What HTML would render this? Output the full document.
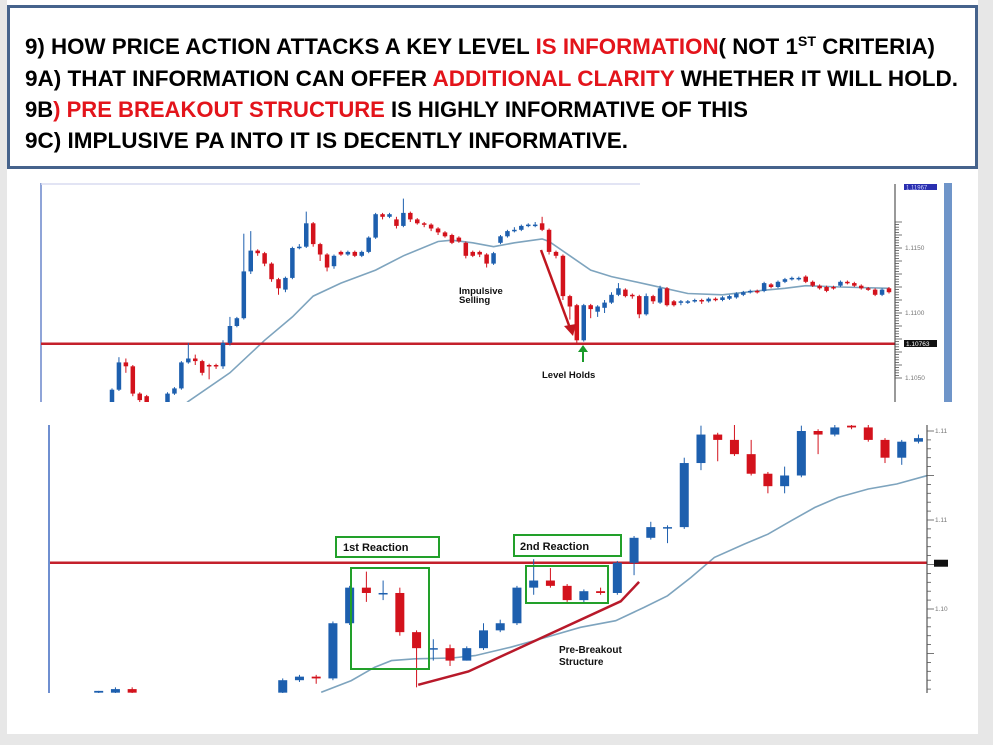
<!DOCTYPE html>
<html><head><meta charset="utf-8"><style>
html,body{margin:0;padding:0;background:#e7e7e7;}
svg{display:block;}
text{font-family:"Liberation Sans",sans-serif;}
</style></head><body>
<svg id="s" width="993" height="745" viewBox="0 0 993 745" xmlns="http://www.w3.org/2000/svg">
<rect x="0" y="0" width="993" height="745" fill="#e7e7e7"/>
<rect x="7" y="0" width="971" height="734" fill="#ffffff"/>
<rect x="8.5" y="6.5" width="968" height="161" fill="#fff" stroke="#46638c" stroke-width="3"/>
<g font-weight="bold" font-size="22" fill="#000">
<text x="25" y="54" textLength="910" lengthAdjust="spacingAndGlyphs">9) HOW PRICE ACTION ATTACKS A KEY LEVEL <tspan fill="#e3141b">IS INFORMATION</tspan>( NOT 1<tspan font-size="14" dy="-8">ST</tspan><tspan dy="8"> CRITERIA)</tspan></text>
<text x="25" y="86" textLength="933" lengthAdjust="spacingAndGlyphs">9A) THAT INFORMATION CAN OFFER <tspan fill="#e3141b">ADDITIONAL CLARITY</tspan> WHETHER IT WILL HOLD.</text>
<text x="25" y="117" textLength="723" lengthAdjust="spacingAndGlyphs">9B<tspan fill="#e3141b">) PRE BREAKOUT STRUCTURE</tspan> IS HIGHLY INFORMATIVE OF THIS</text>
<text x="25" y="148" textLength="603" lengthAdjust="spacingAndGlyphs">9C) IMPLUSIVE PA INTO IT IS DECENTLY INFORMATIVE.</text>
</g>
<defs>
<clipPath id="c1"><rect x="41" y="184" width="854" height="218"/></clipPath>
<clipPath id="c2"><rect x="50" y="425" width="877" height="268"/></clipPath>
</defs>
<g id="top"></g>
<g id="bot"></g>
</svg>
<script>
// ---------- TOP CHART DATA (pips above 1.1000) ----------
const topOpen=[31,41,62,59,38,36,30,27,31,38,42,62,65,63,60,60,59,77,90,96,132,148,146,138,126,118,127,150,151,169,153,145,136,147,145,147,144,147,158,176,174,172,167,177,172,169,168,165,162,160,158,154,147,147,145,138,154,159,163,164,167,167,169,164,147,144,113,106,79,106,101,104,108,114,118,114,113,99,113,108,119,109,108,108,109,110,109,111,110,111,112,114,116,117,117,122,120,124,126,126,128,124,121,120,120,121,124,123,121,119,118,114,119];
const topClose=[41,62,59,38,33,31,27,29,38,42,62,65,63,54,59,59,77,90,96,132,148,146,138,126,119,127,150,151,169,153,145,135,144,145,147,144,147,158,176,174,176,167,177,172,169,168,165,162,159,154,155,144,144,145,138,146,159,163,164,167,168,168,164,147,144,113,105,79,106,103,105,108,114,119,113,113,99,113,109,119,106,106,109,109,110,109,111,110,112,113,115,116,117,116,123,120,124,126,127,127,124,121,119,117,119,124,123,121,119,118,114,118,116];
const topHigh=[42,66,65,60,39,37,31,30,39,43,63,77,68,64,61,61,79,97,97,161,163,149,147,139,127,128,151,153,178,170,154,146,145,148,148,148,148,159,177,177,177,174,188,178,173,170,169,166,163,161,159,155,148,148,146,147,160,164,166,168,169,170,174,165,148,145,114,107,107,107,106,110,116,123,119,115,114,115,114,121,120,110,110,110,111,111,112,112,113,114,116,117,118,118,124,123,125,127,128,128,129,125,122,121,121,125,125,124,122,120,119,119,120];
const topLow=[30,40,54,36,30,28,25,25,30,37,41,61,60,52,49,57,57,75,89,95,130,144,136,124,114,116,126,149,150,151,140,132,134,144,144,143,143,146,157,172,173,165,166,170,168,166,163,160,158,153,154,142,143,143,135,137,153,158,162,163,166,166,163,145,142,110,95,77,78,96,97,100,107,113,112,111,96,98,107,107,105,105,106,107,108,107,108,109,109,110,111,113,115,115,116,119,119,123,125,125,123,120,118,116,118,120,122,120,118,117,113,113,115];
const topMaIdx=[9,11,17,22,26,29,33,38,42,47,49,52,55,58,62,63,66,69,72,78,83,88,93,97,100,105,112];
const topMaVal=[23,32,54,79,97,113,123,133,144,155,156,154,151,154,157,155,144,133,128,121,115,114,117,119,121,120,119];
const topTickVals=[115,110,105];
const topTickLabels=["1.1150","1.1100","1.1050"];
const topLevel=76.3;
const topLevelLabel="1.10763";
const topTopLabel="1.11967";

// ---------- BOTTOM CHART DATA ----------
const botOpen=[3,3,5,-3,-3,-3,-3,-3,-3,-1,-3,3,10,12,11,42,62,59,59,37,28,28,21,28,38,42,62,66,63,55,60,59,76,90,96,96,132,148,145,137,126,119,125,150,148,153,152,145,135,144];
const botClose=[4,5,3,-1,-1,-1,-1,-1,-1,1,-1,10,12,11,42,62,59,59,37,28,28,21,28,38,42,62,66,63,55,60,59,76,90,96,96,132,148,145,137,126,119,125,150,148,152,152,145,135,144,146];
const botHigh=[4,6,6,0,0,0,0,0,0,2,0,11,13,13,43,63,71,66,62,38,33,30,29,42,44,63,78,73,64,61,62,77,91,99,97,135,153,149,154,145,127,130,153,151,157,157,157,146,145,148];
const botLow=[2,2,2,-4,-4,-4,-4,-4,-4,-3,-4,2,9,8,10,41,54,55,35,6,21,18,21,27,37,41,58,62,54,53,58,58,69,89,87,95,128,133,136,125,115,115,124,137,147,151,144,132,131,143];
const botMaIdx=[13.3,15.1,16.5,17.5,18.9,21.1,22.5,24.6,26.7,28.8,30.9,32.6,34,35.4,36.8,38.6,40,41.4,42.8,44.2,46,47.7,49.5];
const botMaVal=[3.2,9.8,17.3,21,22,22.5,23.8,28.5,34,39.7,43.4,50.9,57.4,67.7,79,86.5,92,99.6,107,112.7,117.4,120.2,124.9];
const trendIdx=[19.1,22.1,31.2,32.3];
const trendVal=[7.4,14.9,54.3,65.2];
const botTickVals=[115,110,105];
const botTickLabels=["1.11","1.11","1.10"];
const botLevel=76;

const NS="http://www.w3.org/2000/svg";
function mk(parent,tag,attrs){const e=document.createElementNS(NS,tag);for(const k in attrs)e.setAttribute(k,attrs[k]);parent.appendChild(e);return e;}
const BLUE="#1d5fae",RED="#d3121c";

const tY=p=>313-(p-100)*1.3;
const tX=i=>112+i*(777/(topOpen.length-1));
const bY=p=>520-(p-100)*1.78;
const bX=i=>98.7+i*16.73;

function drawChart(g,clip,X,Y,O,C,H,L,bw,maI,maV,level,x0,x1,prefix){
  const cg=mk(g,'g',{'clip-path':'url(#'+clip+')'});
  
  
  let d='';maI.forEach((v,k)=>{d+=(k?'L':'M')+X(v).toFixed(1)+' '+Y(maV[k]).toFixed(1);});
  const ma=mk(cg,'path',{d:d,fill:'none',stroke:'#7ea4be','stroke-width':1.6});
  
  
  const lv=mk(cg,'line',{x1:x0,x2:x1,y1:Y(level),y2:Y(level),stroke:'#c4202b','stroke-width':2.5});
  
  
  for(let i=0;i<O.length;i++){
    const up=C[i]>=O[i];const col=up?BLUE:RED;const x=X(i);
    const w=mk(cg,'line',{x1:x,x2:x,y1:Y(H[i]),y2:Y(L[i]),stroke:col,'stroke-width':1});
    
    
    const top=Y(Math.max(O[i],C[i])),hgt=Math.max(1.5,Math.abs(Y(O[i])-Y(C[i])));
    const b=mk(cg,'rect',{x:x-bw/2,y:top,width:bw,height:hgt,fill:col});
    
    
  }
}

// ---- TOP ----
const tg=document.getElementById('top');
mk(tg,'rect',{x:40,y:183,width:912,height:219,fill:'#fff'});
mk(tg,'line',{x1:41,x2:41,y1:183,y2:402,stroke:'#8fa4d8','stroke-width':2});
mk(tg,'line',{x1:41,x2:640,y1:184,y2:184,stroke:'#d8dcf0','stroke-width':1.5});
mk(tg,'rect',{x:944,y:183,width:8,height:219,fill:'#6f95c9'});
drawChart(tg,'c1',tX,tY,topOpen,topClose,topHigh,topLow,4.5,topMaIdx,topMaVal,topLevel,41,895,'top');
const ta=mk(tg,'line',{x1:895,x2:895,y1:184,y2:402,stroke:'#333','stroke-width':1});


for(let p=50;p<=170;p+=2){const y=tY(p);if(y<185||y>401)continue;mk(tg,'line',{x1:895,x2:p%10===0?902:899,y1:y,y2:y,stroke:'#555','stroke-width':0.8});}
topTickVals.forEach((v,k)=>{const t=mk(tg,'text',{x:905,y:tY(100+(v-110)*10)+2,'font-size':6.5,fill:'#777'});t.textContent=topTickLabels[k];

});
mk(tg,'rect',{x:904,y:340,width:33,height:7,fill:'#111'});
const tl=mk(tg,'text',{x:906,y:346,'font-size':6.5,fill:'#fff'});tl.textContent=topLevelLabel;


mk(tg,'rect',{x:904,y:184,width:33,height:6,fill:'#2a2fb0'});
const tt=mk(tg,'text',{x:906,y:189.5,'font-size':6,fill:'#cfd3ff'});tt.textContent=topTopLabel;


const ar=mk(tg,'line',{x1:541,y1:250,x2:570,y2:328,stroke:'#c0161f','stroke-width':2.5});


mk(tg,'polygon',{points:'564,326 576,324 573,336',fill:'#c0161f'});
const a1=mk(tg,'text',{x:459,y:294,'font-size':9.5,'font-weight':'bold',fill:'#111'});a1.textContent='Impulsive';


const a2=mk(tg,'text',{x:459,y:303,'font-size':9.5,'font-weight':'bold',fill:'#111'});a2.textContent='Selling';


mk(tg,'line',{x1:583,x2:583,y1:362,y2:350,stroke:'#1a9a2a','stroke-width':2});
const ga=mk(tg,'polygon',{points:'578,352 588,352 583,345',fill:'#1a9a2a'});


const a3=mk(tg,'text',{x:542,y:378,'font-size':9.5,'font-weight':'bold',fill:'#111'});a3.textContent='Level Holds';



// ---- BOTTOM ----
const bg=document.getElementById('bot');
mk(bg,'rect',{x:48,y:425,width:900,height:268,fill:'#fff'});
mk(bg,'line',{x1:49,x2:49,y1:425,y2:693,stroke:'#6f8fd0','stroke-width':2});
drawChart(bg,'c2',bX,bY,botOpen,botClose,botHigh,botLow,9,botMaIdx,botMaVal,botLevel,50,927,'bottom');
const tr=mk(bg,'path',{d:trendIdx.map((v,k)=>(k?'L':'M')+bX(v).toFixed(1)+' '+bY(trendVal[k]).toFixed(1)).join(''),fill:'none',stroke:'#b8192a','stroke-width':2.5});


const ba=mk(bg,'line',{x1:927,x2:927,y1:425,y2:693,stroke:'#333','stroke-width':1});


for(let p=0;p<=160;p+=5){const y=bY(p);if(y<426||y>692)continue;mk(bg,'line',{x1:927,x2:p%25===0?934:931,y1:y,y2:y,stroke:'#555','stroke-width':0.8});}
botTickVals.forEach((v,k)=>{const t=mk(bg,'text',{x:935,y:bY(100+(v-110)*10)+2,'font-size':6.5,fill:'#777'});t.textContent=botTickLabels[k];

});
mk(bg,'rect',{x:934,y:bY(botLevel)-3,width:14,height:7,fill:'#111'});
function gbox(x,y,w,h,name){const r=mk(bg,'rect',{x:x,y:y,width:w,height:h,fill:'none',stroke:'#22a02a','stroke-width':2});

}
gbox(351,568,78,101,'first-reaction-box');
gbox(526,566,82,37,'second-reaction-box');
gbox(336,537,103,20,'first-reaction-label-box');
gbox(514,535,107,21,'second-reaction-label-box');
const l1=mk(bg,'text',{x:343,y:551,'font-size':11,'font-weight':'bold',fill:'#111'});l1.textContent='1st Reaction';


const l2=mk(bg,'text',{x:520,y:550,'font-size':11,'font-weight':'bold',fill:'#111'});l2.textContent='2nd Reaction';


const p1=mk(bg,'text',{x:559,y:653,'font-size':10,'font-weight':'bold',fill:'#111'});p1.textContent='Pre-Breakout';


const p2=mk(bg,'text',{x:559,y:665,'font-size':10,'font-weight':'bold',fill:'#111'});p2.textContent='Structure';


</script>
</body></html>
